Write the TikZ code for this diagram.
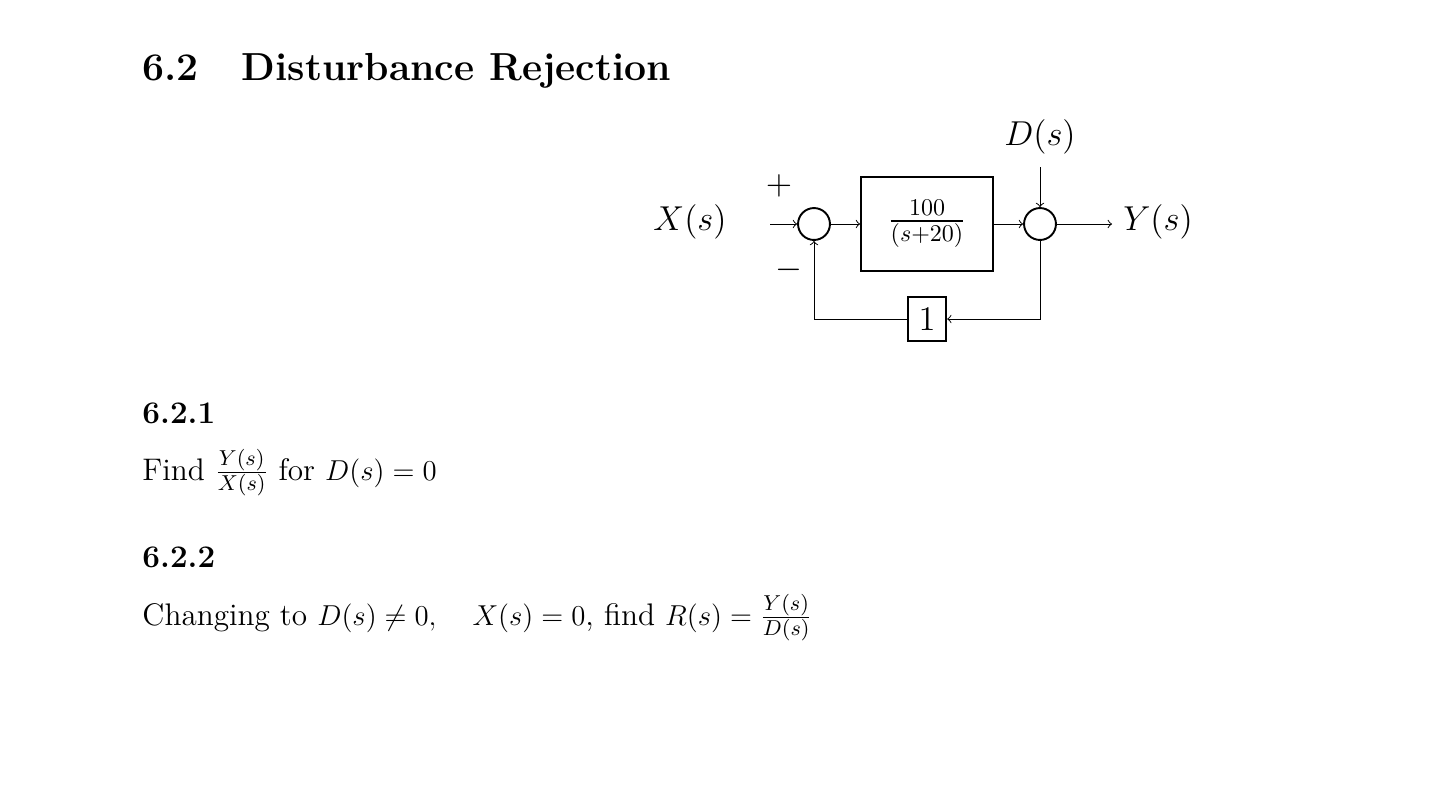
\documentclass[tikz,border=0pt]{standalone}
\usepackage{amsmath}
\begin{document}
\begin{tikzpicture}[x=0.4167pt,y=-0.4167pt,
  every node/.style={font=\fontsize{13.6}{16}\selectfont},
  sum/.style={draw,circle,thick,minimum size=13.3pt,inner sep=0pt},
  blk/.style={draw,thick,inner sep=0pt},
  txt/.style={anchor=base west,inner sep=0pt,font=\fontsize{13}{16}\selectfont},
  arr/.style={->,>=to}]
\useasboundingbox (0,0) rectangle (1432,804);
\node[txt,font=\fontsize{16.3}{20}\selectfont\bfseries] (h) at (142,80) {6.2\hspace{1.1em}Disturbance Rejection};
\node[sum] (s1) at (814,224) {};
\node[blk,minimum width=55pt,minimum height=39pt] (g) at (927,224) {$\frac{100}{(s+20)}$};
\node[sum] (s2) at (1040,224) {};
\node[draw,inner sep=0pt,minimum width=16pt,minimum height=18pt,thick] (fb) at (927,319) {$1$};
\node (x) at (690,222) {$X(s)$};
\node (y) at (1158,222) {$Y(s)$};
\node (d) at (1040,137) {$D(s)$};
\coordinate (xin) at (770,224);
\coordinate (yout) at (1112,224);
\coordinate (din) at (1040,167);
\coordinate (c1) at (1040,319);
\coordinate (c2) at (814,319);
\node at (779,186) {$+$};
\node at (789,270) {$-$};
\draw[arr] (xin) -- (s1);
\draw[arr] (s1) -- (g);
\draw[arr] (g) -- (s2);
\draw[arr] (s2) -- (yout);
\draw[arr] (din) -- (s2);
\draw[arr] (s2) -- (c1) -- (fb);
\draw[arr] (fb) -- (c2) -- (s1);
\node[txt,font=\fontsize{13.1}{16}\selectfont\bfseries] (a1) at (142,423) {6.2.1};
\node[txt] (t1) at (142,480) {Find $\frac{Y(s)}{X(s)}$ for $D(s)=0$};
\node[txt,font=\fontsize{13.1}{16}\selectfont\bfseries] (a2) at (142,567) {6.2.2};
\node[txt] (t2) at (142,625) {Changing to $D(s)\neq0,\quad X(s)=0$, find $R(s)=\frac{Y(s)}{D(s)}$};
\end{tikzpicture}
\end{document}
